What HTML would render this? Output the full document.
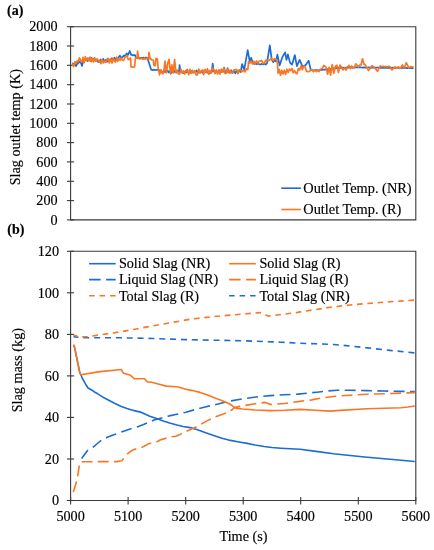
<!DOCTYPE html>
<html><head><meta charset="utf-8"><title>Slag outlet temperature and slag mass</title>
<style>html,body{margin:0;padding:0;background:#fff}body{width:434px;height:550px;overflow:hidden}</style></head>
<body>
<svg width="434" height="550" viewBox="0 0 434 550" style="display:block">
<rect width="434" height="550" fill="#fff"/>
<g font-family="'Liberation Serif', serif" font-size="14.2" fill="#000" stroke="#000" stroke-width="0.16">
<path d="M70.6,26.7 H415.8 V219.9 H70.6 Z" fill="none" stroke="#3a3a3a" stroke-width="1.1"/>
<line x1="66.89999999999999" x2="74.1" y1="219.9" y2="219.9" stroke="#3a3a3a" stroke-width="1.1"/>
<text x="57.6" y="224.5" text-anchor="end">0</text>
<line x1="66.89999999999999" x2="74.1" y1="200.6" y2="200.6" stroke="#3a3a3a" stroke-width="1.1"/>
<text x="57.6" y="205.2" text-anchor="end">200</text>
<line x1="66.89999999999999" x2="74.1" y1="181.3" y2="181.3" stroke="#3a3a3a" stroke-width="1.1"/>
<text x="57.6" y="185.9" text-anchor="end">400</text>
<line x1="66.89999999999999" x2="74.1" y1="161.9" y2="161.9" stroke="#3a3a3a" stroke-width="1.1"/>
<text x="57.6" y="166.5" text-anchor="end">600</text>
<line x1="66.89999999999999" x2="74.1" y1="142.6" y2="142.6" stroke="#3a3a3a" stroke-width="1.1"/>
<text x="57.6" y="147.2" text-anchor="end">800</text>
<line x1="66.89999999999999" x2="74.1" y1="123.3" y2="123.3" stroke="#3a3a3a" stroke-width="1.1"/>
<text x="57.6" y="127.9" text-anchor="end">1000</text>
<line x1="66.89999999999999" x2="74.1" y1="104.0" y2="104.0" stroke="#3a3a3a" stroke-width="1.1"/>
<text x="57.6" y="108.6" text-anchor="end">1200</text>
<line x1="66.89999999999999" x2="74.1" y1="84.7" y2="84.7" stroke="#3a3a3a" stroke-width="1.1"/>
<text x="57.6" y="89.3" text-anchor="end">1400</text>
<line x1="66.89999999999999" x2="74.1" y1="65.3" y2="65.3" stroke="#3a3a3a" stroke-width="1.1"/>
<text x="57.6" y="69.9" text-anchor="end">1600</text>
<line x1="66.89999999999999" x2="74.1" y1="46.0" y2="46.0" stroke="#3a3a3a" stroke-width="1.1"/>
<text x="57.6" y="50.6" text-anchor="end">1800</text>
<line x1="66.89999999999999" x2="74.1" y1="26.7" y2="26.7" stroke="#3a3a3a" stroke-width="1.1"/>
<text x="57.6" y="31.3" text-anchor="end">2000</text>
<text transform="translate(20.2,127.2) rotate(-90)" text-anchor="middle">Slag outlet temp (K)</text>
<path d="M72.2,63.3 L74.5,64.0 L76.0,66.0 L76.0,66.0 L77.5,63.0 L77.5,64.0 L79.2,61.7 L81.0,63.0 L82.0,66.0 L82.0,66.0 L83.4,60.5 L83.4,59.0 L84.8,60.5 L86.1,59.1 L87.5,61.1 L88.8,58.3 L90.2,60.9 L91.6,58.0 L92.9,60.9 L94.3,58.2 L95.6,61.2 L97.0,60.0 L98.2,62.0 L99.5,62.0 L100.8,59.4 L102.0,61.6 L103.2,58.9 L104.5,61.7 L105.8,59.7 L107.0,61.8 L108.2,59.1 L109.5,60.8 L110.8,58.9 L112.0,58.2 L113.3,60.3 L114.7,57.7 L116.0,60.1 L117.3,59.8 L118.7,57.1 L120.0,55.6 L121.3,57.9 L122.7,57.1 L124.0,55.3 L125.3,56.2 L126.7,53.5 L128.0,54.8 L129.7,51.0 L129.7,51.0 L131.0,54.6 L131.0,54.1 L132.3,55.3 L133.7,55.1 L135.0,55.0 L136.0,58.0 L136.0,57.6 L137.3,58.2 L138.5,57.6 L139.8,58.2 L141.1,57.7 L142.3,58.2 L143.6,57.5 L144.9,58.6 L146.1,57.4 L147.4,58.0 L151.2,69.7 L151.2,69.6 L152.5,70.2 L153.7,69.7 L155.0,70.0 L156.2,69.8 L157.5,69.8 L158.7,70.1 L160.0,70.6 L161.3,70.7 L162.5,72.6 L163.8,72.4 L165.1,70.3 L166.3,72.6 L167.6,70.5 L168.9,72.6 L170.1,71.0 L171.4,72.9 L172.7,70.9 L173.9,72.3 L175.2,70.4 L176.5,72.7 L177.7,70.9 L179.0,71.8 L179.6,65.0 L179.6,65.0 L180.4,72.0 L180.4,71.5 L181.7,71.4 L182.9,72.9 L184.2,73.3 L185.4,71.1 L186.7,72.5 L187.9,71.2 L189.2,72.5 L190.4,72.9 L191.7,70.8 L193.0,72.7 L194.2,71.2 L195.5,72.3 L196.7,70.5 L198.0,72.8 L199.2,70.6 L200.5,72.5 L201.8,71.1 L203.0,73.2 L204.3,70.6 L205.5,72.2 L206.8,70.5 L208.0,72.8 L209.3,72.6 L210.5,73.0 L211.8,71.8 L212.7,63.7 L212.7,63.7 L213.6,71.5 L213.6,70.1 L215.0,72.0 L216.4,70.6 L217.8,72.9 L219.3,70.5 L220.7,72.4 L222.1,71.2 L223.5,71.6 L224.2,67.5 L224.2,67.5 L225.2,73.0 L225.2,72.5 L227.0,72.0 L227.6,68.2 L227.6,68.2 L228.6,72.5 L228.6,70.2 L229.9,72.9 L231.3,70.3 L232.6,72.9 L234.0,70.5 L235.3,73.4 L236.7,70.5 L238.0,73.3 L239.4,69.9 L240.7,72.0 L242.1,64.0 L242.1,64.0 L244.2,69.6 L244.2,69.6 L247.7,50.2 L247.7,50.2 L249.7,61.3 L249.7,61.3 L251.1,57.8 L251.1,57.8 L253.0,63.4 L253.0,63.3 L254.3,64.1 L255.5,63.3 L256.8,64.2 L258.1,63.6 L259.4,64.3 L260.6,64.5 L261.9,63.8 L263.2,64.4 L264.5,63.7 L265.7,64.7 L267.0,63.0 L269.8,45.4 L269.8,45.4 L271.8,59.9 L271.8,59.6 L273.2,62.2 L274.6,60.0 L276.0,61.5 L277.4,54.6 L277.4,54.6 L279.6,65.4 L279.6,65.4 L282.4,57.1 L282.4,57.1 L285.1,52.3 L285.1,52.3 L286.5,59.9 L286.5,59.9 L287.9,54.4 L287.9,54.4 L290.0,62.6 L290.0,62.6 L292.0,64.7 L292.0,64.7 L294.8,55.0 L294.8,55.0 L296.9,66.1 L296.9,66.1 L299.6,59.9 L299.6,59.9 L301.7,64.7 L301.7,64.7 L303.1,66.8 L303.1,66.8 L305.9,64.7 L305.9,64.7 L308.6,60.6 L308.6,60.6 L310.7,69.6 L310.7,70.0 L312.2,70.0 L313.6,70.6 L315.1,70.2 L316.5,70.1 L318.0,70.4 L319.3,70.2 L320.6,70.2 L321.9,69.9 L323.2,69.6 L324.6,69.5 L325.9,69.7 L327.2,69.4 L328.5,69.0 L329.8,69.1 L331.1,68.7 L332.4,68.7 L333.8,68.4 L335.1,68.5 L336.4,67.9 L337.7,68.1 L339.0,67.6 L340.3,67.8 L341.6,67.8 L342.9,67.6 L344.2,67.8 L345.6,67.5 L346.9,67.7 L348.2,67.5 L349.5,67.7 L350.8,67.6 L352.1,67.3 L353.4,67.6 L354.8,67.3 L356.1,67.4 L357.4,67.2 L358.7,67.4 L360.0,67.2 L361.3,67.5 L362.5,67.6 L363.8,67.3 L365.1,67.6 L366.4,67.3 L367.6,67.7 L368.9,67.3 L370.2,67.7 L371.5,67.4 L372.7,67.7 L374.0,67.5 L375.3,67.7 L376.6,67.6 L377.8,67.5 L379.1,67.5 L380.4,67.8 L381.7,67.6 L382.9,67.8 L384.2,67.6 L385.5,67.9 L386.8,67.6 L388.0,67.9 L389.3,67.6 L390.6,67.9 L391.9,67.6 L393.1,67.9 L394.4,67.9 L395.7,67.7 L397.0,67.8 L398.2,68.0 L399.5,67.7 L400.8,68.1 L402.1,67.8 L403.3,67.8 L404.6,68.0 L405.9,67.9 L407.2,68.2 L408.4,67.8 L409.7,68.2 L411.0,68.0 L412.3,68.3 L413.5,67.9" fill="none" stroke="#1c6cd4" stroke-width="1.7" stroke-linejoin="round"/>
<path d="M72.2,63.7 L73.6,66.6 L75.0,61.7 L76.1,63.3 L77.2,60.9 L78.4,61.5 L79.5,57.8 L80.7,60.7 L81.8,61.9 L83.0,57.4 L84.2,62.7 L85.3,56.7 L86.5,60.7 L87.7,58.0 L88.8,60.7 L90.0,57.1 L91.2,61.6 L92.3,58.5 L93.5,61.9 L94.7,57.9 L95.8,61.3 L97.0,58.8 L98.5,60.9 L99.7,60.4 L100.9,63.7 L102.1,59.5 L103.2,63.0 L104.4,60.9 L105.6,62.3 L106.8,59.7 L108.0,58.4 L109.3,63.0 L110.7,58.5 L112.0,63.1 L113.2,58.4 L114.3,61.0 L115.5,62.2 L116.6,57.1 L117.8,61.3 L118.9,58.6 L120.1,60.4 L121.2,58.2 L122.4,60.0 L123.6,60.5 L124.7,57.7 L125.9,56.4 L127.0,55.6 L128.2,59.5 L129.3,59.6 L130.5,58.0 L131.0,67.0 L131.0,66.7 L132.8,67.1 L134.6,67.0 L135.4,58.0 L135.4,57.8 L137.0,58.0 L137.6,51.2 L137.6,51.2 L138.6,58.7 L138.6,58.2 L140.0,58.9 L141.4,58.3 L142.8,59.4 L144.2,58.3 L145.6,59.2 L147.0,58.1 L148.4,58.7 L149.0,52.4 L149.0,52.4 L150.0,59.0 L150.0,57.8 L151.7,60.0 L153.3,60.0 L154.0,65.6 L154.0,65.5 L155.2,65.6 L156.0,58.5 L156.0,58.3 L157.4,59.0 L158.2,69.0 L158.2,68.9 L159.6,74.8 L160.9,69.9 L162.3,73.6 L163.6,73.2 L165.0,61.0 L166.4,72.3 L167.8,62.9 L169.1,59.3 L170.5,73.9 L171.9,64.9 L173.2,73.0 L174.6,59.5 L176.0,72.8 L177.3,70.1 L178.5,74.0 L179.8,73.9 L181.0,69.3 L182.3,73.3 L183.6,70.9 L184.8,73.9 L186.1,70.5 L187.3,69.4 L188.6,74.7 L189.9,69.4 L191.1,73.3 L192.4,70.4 L193.7,72.8 L194.9,70.7 L196.2,74.9 L197.4,74.9 L198.7,69.1 L200.0,73.2 L201.2,70.8 L202.5,69.8 L203.7,74.6 L205.0,69.4 L206.2,72.7 L207.5,68.7 L208.8,74.2 L210.0,70.3 L211.2,73.0 L212.5,68.2 L213.8,69.5 L215.0,73.7 L216.2,70.0 L217.5,74.0 L218.8,69.8 L220.0,74.1 L221.2,69.2 L222.5,71.9 L223.8,67.5 L225.0,73.4 L226.3,73.2 L227.6,68.9 L228.9,72.8 L230.2,70.2 L231.5,72.9 L232.8,72.6 L234.2,70.0 L235.5,69.5 L236.8,69.9 L238.1,73.5 L239.4,69.7 L240.7,70.3 L242.1,71.6 L243.5,69.9 L245.0,71.9 L246.4,68.9 L247.8,69.5 L248.5,62.6 L248.5,61.5 L249.8,63.1 L251.1,61.7 L252.5,63.8 L253.8,61.2 L255.1,63.8 L256.4,61.0 L257.8,63.2 L259.1,61.0 L260.4,60.9 L261.7,60.6 L263.0,63.4 L264.4,62.9 L265.7,60.2 L267.0,60.0 L268.5,60.9 L270.0,59.7 L271.4,58.5 L272.9,60.5 L274.4,58.9 L275.8,59.1 L277.2,61.0 L278.0,71.0 L278.0,73.1 L279.3,69.6 L280.5,75.2 L281.8,70.3 L283.1,73.9 L284.4,70.2 L285.6,74.4 L286.9,69.2 L288.2,72.5 L289.4,69.0 L290.7,70.5 L292.0,68.6 L293.2,72.8 L294.5,70.6 L295.8,73.2 L297.1,73.6 L298.3,68.5 L299.6,70.0 L301.0,66.0 L302.4,69.8 L303.8,65.7 L305.2,67.4 L306.6,71.4 L308.0,71.6 L309.4,71.5 L310.8,69.9 L312.1,69.7 L313.5,71.7 L314.9,69.7 L316.3,71.5 L317.6,70.3 L319.0,71.7 L320.4,69.2 L322.1,68.6 L323.8,65.5 L326.0,67.1 L327.6,74.2 L329.1,67.3 L330.6,75.1 L332.2,64.6 L333.8,73.2 L335.3,66.4 L336.9,65.2 L338.4,72.5 L339.9,65.1 L341.5,67.3 L343.0,69.9 L344.5,67.7 L346.0,70.0 L347.5,67.2 L349.0,65.3 L350.3,68.6 L351.7,65.9 L353.0,67.8 L354.3,67.8 L355.7,63.8 L357.0,65.0 L358.3,67.1 L359.7,65.0 L361.0,65.0 L362.5,58.8 L362.5,58.8 L364.0,64.4 L364.0,64.4 L365.0,64.4 L365.0,64.4 L368.5,70.6 L368.5,70.6 L372.0,65.7 L372.0,65.7 L374.7,67.8 L374.7,67.8 L377.4,71.3 L377.4,71.3 L380.2,66.4 L380.2,65.9 L381.6,66.8 L383.0,66.3 L384.4,66.9 L385.8,66.4 L387.2,67.1 L388.6,66.1 L390.0,67.0 L392.0,69.9 L392.0,69.9 L394.0,67.8 L394.0,67.1 L395.4,67.1 L396.8,68.2 L398.2,66.9 L399.6,68.3 L401.0,67.5 L402.3,65.0 L402.3,65.0 L404.4,67.8 L404.4,67.8 L406.2,62.7 L406.2,62.7 L408.5,67.1 L408.5,66.9 L409.8,67.6 L411.0,66.5 L412.3,67.2 L413.5,66.6" fill="none" stroke="#fa7622" stroke-width="1.7" stroke-linejoin="round"/>
<line x1="281.3" y1="188.2" x2="300.9" y2="188.2" stroke="#1c6cd4" stroke-width="1.6"/><text x="303.3" y="192.7" font-size="14.35">Outlet Temp. (NR)</text><line x1="281.3" y1="209.5" x2="300.9" y2="209.5" stroke="#fa7622" stroke-width="1.6"/><text x="303.3" y="214.0" font-size="14.35">Outlet Temp. (R)</text>
<text x="7.1" y="14.8" font-weight="bold" font-size="14">(a)</text>
<text x="7.3" y="234" font-weight="bold" font-size="14">(b)</text>
<path d="M70.6,251.3 H415.8 V500.5 H70.6 Z" fill="none" stroke="#3a3a3a" stroke-width="1.1"/>
<line x1="66.89999999999999" x2="74.1" y1="500.5" y2="500.5" stroke="#3a3a3a" stroke-width="1.1"/>
<text x="59.0" y="505.2" text-anchor="end">0</text>
<line x1="66.89999999999999" x2="74.1" y1="459.0" y2="459.0" stroke="#3a3a3a" stroke-width="1.1"/>
<text x="59.0" y="463.7" text-anchor="end">20</text>
<line x1="66.89999999999999" x2="74.1" y1="417.4" y2="417.4" stroke="#3a3a3a" stroke-width="1.1"/>
<text x="59.0" y="422.1" text-anchor="end">40</text>
<line x1="66.89999999999999" x2="74.1" y1="375.9" y2="375.9" stroke="#3a3a3a" stroke-width="1.1"/>
<text x="59.0" y="380.6" text-anchor="end">60</text>
<line x1="66.89999999999999" x2="74.1" y1="334.4" y2="334.4" stroke="#3a3a3a" stroke-width="1.1"/>
<text x="59.0" y="339.1" text-anchor="end">80</text>
<line x1="66.89999999999999" x2="74.1" y1="292.8" y2="292.8" stroke="#3a3a3a" stroke-width="1.1"/>
<text x="59.0" y="297.5" text-anchor="end">100</text>
<line x1="66.89999999999999" x2="74.1" y1="251.3" y2="251.3" stroke="#3a3a3a" stroke-width="1.1"/>
<text x="59.0" y="256.0" text-anchor="end">120</text>
<line x1="70.6" x2="70.6" y1="496.9" y2="504.5" stroke="#3a3a3a" stroke-width="1.1"/>
<text x="70.6" y="521.3" text-anchor="middle">5000</text>
<line x1="128.1" x2="128.1" y1="496.9" y2="504.5" stroke="#3a3a3a" stroke-width="1.1"/>
<text x="128.1" y="521.3" text-anchor="middle">5100</text>
<line x1="185.7" x2="185.7" y1="496.9" y2="504.5" stroke="#3a3a3a" stroke-width="1.1"/>
<text x="185.7" y="521.3" text-anchor="middle">5200</text>
<line x1="243.2" x2="243.2" y1="496.9" y2="504.5" stroke="#3a3a3a" stroke-width="1.1"/>
<text x="243.2" y="521.3" text-anchor="middle">5300</text>
<line x1="300.7" x2="300.7" y1="496.9" y2="504.5" stroke="#3a3a3a" stroke-width="1.1"/>
<text x="300.7" y="521.3" text-anchor="middle">5400</text>
<line x1="358.3" x2="358.3" y1="496.9" y2="504.5" stroke="#3a3a3a" stroke-width="1.1"/>
<text x="358.3" y="521.3" text-anchor="middle">5500</text>
<line x1="415.8" x2="415.8" y1="496.9" y2="504.5" stroke="#3a3a3a" stroke-width="1.1"/>
<text x="415.8" y="521.3" text-anchor="middle">5600</text>
<text x="243.5" y="541.2" text-anchor="middle">Time (s)</text>
<text transform="translate(22.3,370.2) rotate(-90)" text-anchor="middle">Slag mass (kg)</text>
<path d="M73.5,344.7 L74.7,347.9 L77.3,360.7 L79.8,372.8 L80.9,374.7 L82.4,378.5 L85.6,384.2 L88.1,388.0 L91.9,390.2 L94.5,392.0 L97.7,393.8 L103.0,397.2 L108.3,400.0 L114.0,403.0 L120.7,406.2 L127.0,408.4 L133.2,410.4 L141.5,412.4 L149.8,416.2 L158.0,419.1 L164.0,421.2 L170.5,423.2 L177.0,425.0 L183.0,426.5 L190.0,427.6 L196.8,429.6 L205.0,432.6 L213.6,435.6 L222.0,438.2 L230.5,440.4 L239.0,442.0 L247.3,443.4 L255.0,445.0 L264.1,446.5 L272.0,447.5 L280.9,448.2 L290.0,448.8 L300.0,449.3 L316.0,451.4 L333.6,453.8 L350.0,455.5 L367.3,457.2 L390.0,459.3 L414.8,461.5" fill="none" stroke="#1c6cd4" stroke-width="1.6" stroke-linejoin="round"/>
<path d="M81.6,458.4 L84.0,455.2 L87.8,450.3 L90.5,448.5 L93.5,446.8 L98.0,443.0 L101.5,440.2 L107.3,437.3 L112.4,435.3 L122.8,431.5 L128.0,429.7 L138.4,426.5 L143.5,424.5 L153.9,420.1 L158.0,418.9 L170.5,415.6 L175.7,414.5 L186.0,412.2 L196.8,409.1 L205.0,407.0 L215.0,404.7 L228.8,401.3 L242.6,398.8 L256.0,397.0 L270.3,395.6 L284.0,394.8 L297.9,394.1 L316.8,392.2 L328.0,390.9 L337.0,390.2 L350.5,390.3 L367.0,390.6 L384.1,391.0 L414.8,391.6" fill="none" stroke="#1c6cd4" stroke-width="1.6" stroke-linejoin="round" stroke-dasharray="10.9 5.427" stroke-dashoffset="0.3"/>
<path d="M73.5,336.6 L78.0,337.2 L85.0,337.7 L100.0,337.7 L120.5,337.8 L152.5,338.5 L185.0,339.6 L213.6,340.2 L247.3,340.9 L280.9,342.2 L300.0,343.2 L316.0,343.8 L333.6,344.5 L350.0,346.0 L367.3,347.9 L390.0,350.4 L414.8,352.9" fill="none" stroke="#1c6cd4" stroke-width="1.6" stroke-linejoin="round" stroke-dasharray="6.0 4.854" stroke-dashoffset="1"/>
<path d="M73.5,344.7 L74.7,347.9 L77.3,360.7 L79.8,372.8 L80.9,374.7 L100.0,371.6 L121.4,369.5 L122.4,371.6 L123.8,373.2 L127.0,374.2 L130.1,375.1 L132.0,376.6 L134.2,378.8 L144.6,378.8 L145.8,380.2 L147.3,382.0 L150.8,382.0 L158.1,384.0 L166.4,386.1 L176.7,386.7 L180.0,387.6 L185.0,389.0 L190.0,390.1 L193.5,390.8 L200.0,392.4 L206.9,394.7 L215.0,398.0 L220.4,399.9 L228.8,403.5 L232.0,405.5 L234.4,407.6 L237.0,408.4 L242.6,409.0 L255.0,410.0 L270.3,410.6 L285.0,410.2 L300.0,409.4 L315.0,410.2 L330.3,411.1 L340.0,410.4 L367.3,408.7 L385.0,408.3 L400.9,407.7 L408.0,407.0 L414.8,406.0" fill="none" stroke="#fa7622" stroke-width="1.6" stroke-linejoin="round"/>
<path d="M73.3,492.0 L75.2,486.0 L76.8,480.5 L77.8,475.3 L79.4,464.8 L80.2,461.8 L100.0,461.6 L116.6,461.6 L121.8,460.8 L123.4,458.8 L125.3,456.0 L127.5,453.8 L130.0,451.8 L134.2,449.4 L139.4,448.7 L144.6,446.0 L148.7,443.6 L155.0,442.9 L160.1,440.0 L170.5,436.9 L175.7,436.3 L180.0,434.4 L186.0,431.4 L193.5,428.3 L200.0,424.8 L206.9,420.9 L213.0,418.0 L217.8,415.9 L224.0,413.7 L228.8,411.8 L232.0,409.8 L234.4,407.6 L240.0,406.4 L245.4,405.4 L255.0,403.8 L264.8,402.4 L267.5,403.2 L270.3,404.5 L277.0,404.0 L284.1,403.5 L291.0,402.7 L297.9,401.6 L305.0,400.7 L311.8,399.9 L322.0,398.0 L335.0,396.3 L350.0,395.2 L367.3,394.3 L390.0,393.5 L414.8,392.6" fill="none" stroke="#fa7622" stroke-width="1.6" stroke-linejoin="round" stroke-dasharray="10.9 5.32" stroke-dashoffset="0"/>
<path d="M73.5,335.3 L77.0,336.1 L82.0,336.7 L87.5,336.7 L92.6,336.0 L98.6,335.0 L110.0,333.4 L120.5,331.8 L135.0,329.2 L150.0,326.4 L170.0,322.8 L191.5,319.0 L212.0,316.8 L233.0,314.9 L246.0,313.8 L259.9,312.6 L263.0,313.6 L268.2,316.1 L272.0,315.6 L282.0,314.4 L295.2,312.8 L300.0,311.9 L315.0,309.6 L333.6,306.8 L350.0,305.0 L367.3,303.5 L390.0,301.8 L414.8,300.1" fill="none" stroke="#fa7622" stroke-width="1.6" stroke-linejoin="round" stroke-dasharray="5.6 4.703" stroke-dashoffset="1.5"/>
<line x1="89.1" x2="115.7" y1="263.7" y2="263.7" stroke="#1c6cd4" stroke-width="1.6"/><text x="118.9" y="268.4">Solid Slag (NR)</text>
<line x1="89.1" x2="115.7" y1="279.6" y2="279.6" stroke="#1c6cd4" stroke-width="1.6" stroke-dasharray="11.5 5.5"/><text x="118.9" y="284.3">Liquid Slag (NR)</text>
<line x1="89.1" x2="115.7" y1="295.8" y2="295.8" stroke="#fa7622" stroke-width="1.6" stroke-dasharray="5.5 5"/><text x="118.9" y="300.5">Total Slag (R)</text>
<line x1="229.1" x2="255.9" y1="263.7" y2="263.7" stroke="#fa7622" stroke-width="1.6"/><text x="259.4" y="268.4">Solid Slag (R)</text>
<line x1="229.1" x2="255.9" y1="279.6" y2="279.6" stroke="#fa7622" stroke-width="1.6" stroke-dasharray="11.5 5.5"/><text x="259.4" y="284.3">Liquid Slag (R)</text>
<line x1="229.1" x2="255.9" y1="295.8" y2="295.8" stroke="#1c6cd4" stroke-width="1.6" stroke-dasharray="5.5 5"/><text x="259.4" y="300.5">Total Slag (NR)</text>
</g></svg>
</body></html>
